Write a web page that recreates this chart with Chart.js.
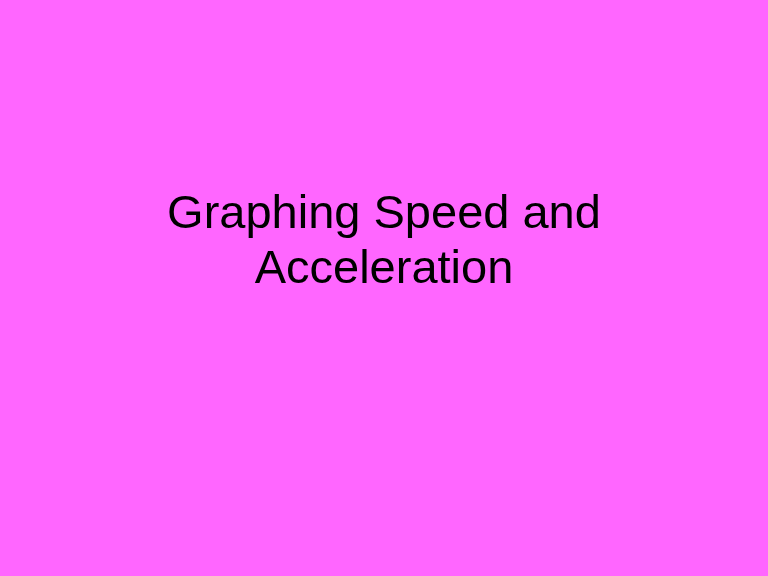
<!DOCTYPE html>
<html>
<head>
<meta charset="utf-8">
<title>Graphing Speed and Acceleration</title>
<script src="https://cdn.jsdelivr.net/npm/chart.js@4/dist/chart.umd.min.js"></script>
<style>
  html, body { margin: 0; padding: 0; background: #ff66ff; }
  #slide { display: block; }
</style>
</head>
<body>
<canvas id="slide" width="768" height="576"></canvas>
<script>
// title slide: no plotted series, only the heading
const titleLines = ['Graphing Speed and', 'Acceleration'];
const categories = [];
const values = [];

new Chart(document.getElementById('slide'), {
  type: 'line',
  data: {
    labels: categories,
    datasets: [{ data: values, borderWidth: 0, pointRadius: 0 }],
  },
  options: {
    responsive: false,
    animation: false,
    devicePixelRatio: 1,
    layout: { padding: { top: 188 } },
    plugins: {
      legend: { display: false },
      tooltip: { enabled: false },
      title: {
        display: true,
        text: titleLines,
        color: '#000000',
        font: { family: '"Liberation Sans", Arial, sans-serif', size: 47, weight: 'normal', lineHeight: 1.17 },
        padding: { top: 0, bottom: 0 },
      },
    },
    scales: {
      x: { display: false },
      y: { display: false },
    },
  },
});
</script>
</body>
</html>
